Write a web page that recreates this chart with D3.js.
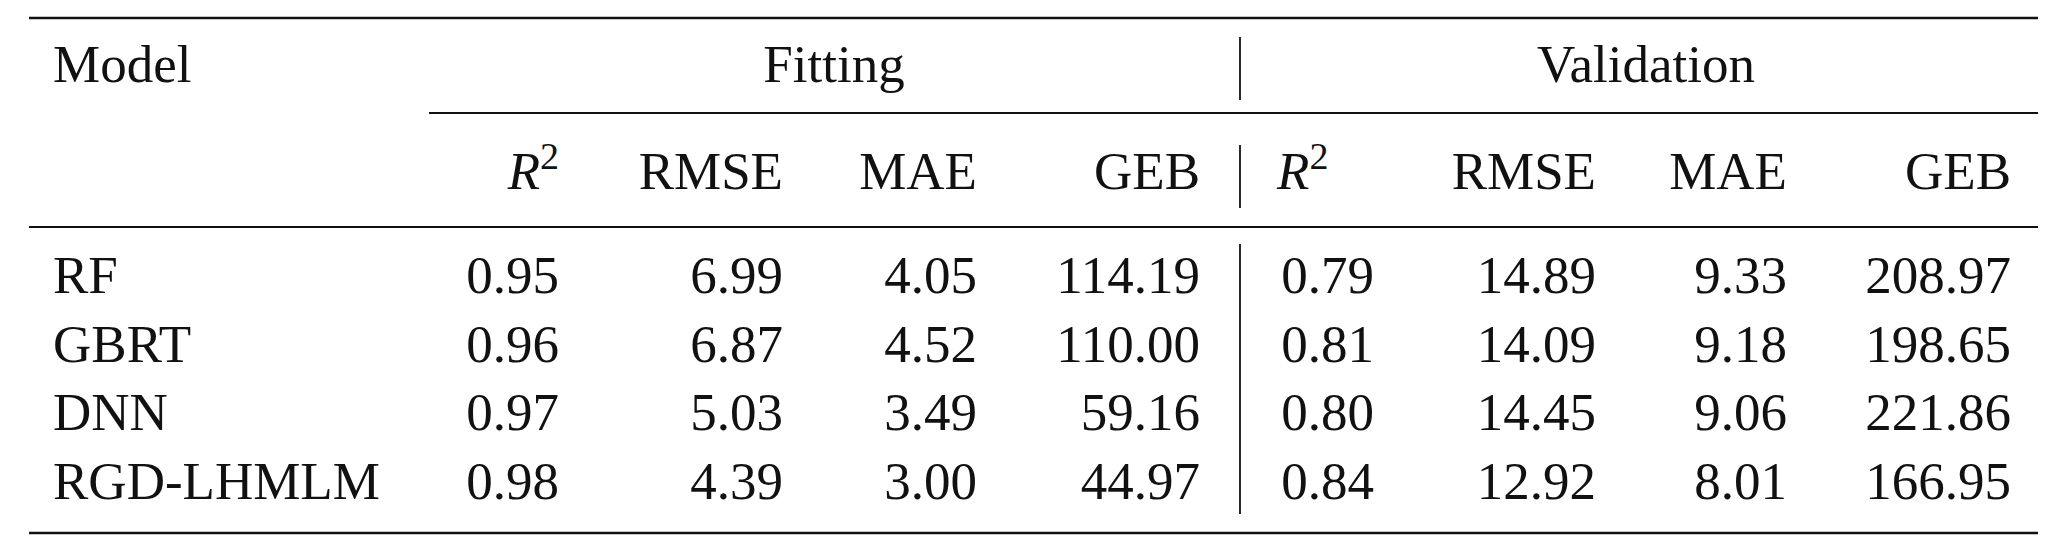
<!DOCTYPE html>
<html><head><meta charset="utf-8">
<script src="https://cdn.jsdelivr.net/npm/d3@7"></script>
<style>body{margin:0;background:#fff}text{font-family:"Liberation Serif","DejaVu Serif",serif;fill:#111}</style>
</head><body><svg id="c" width="2067" height="553"></svg>
<script>
const models = ["RF","GBRT","DNN","RGD-LHMLM"];
const metrics = ["R2","RMSE","MAE","GEB"];
const groups = ["Fitting","Validation"];
const fitting = [
 ["0.95","6.99","4.05","114.19"],
 ["0.96","6.87","4.52","110.00"],
 ["0.97","5.03","3.49","59.16"],
 ["0.98","4.39","3.00","44.97"]];
const validation = [
 ["0.79","14.89","9.33","208.97"],
 ["0.81","14.09","9.18","198.65"],
 ["0.80","14.45","9.06","221.86"],
 ["0.84","12.92","8.01","166.95"]];

const svg = d3.select("#c");
const fs = 53;
const y = d3.scalePoint().domain(models).range([293,499]);
const colKeys = ["F0","F1","F2","F3","V0","V1","V2","V3"];
const x = d3.scaleOrdinal().domain(colKeys).range([559,783,977,1200,1374,1596,1787,2011]);
const gx = d3.scaleOrdinal().domain(groups).range([834,1646]);
const L=29,R=2038,VX=1240;

function hline(yy,x1,x2,w){svg.append("line").attr("x1",x1).attr("x2",x2).attr("y1",yy).attr("y2",yy).attr("stroke","#111").attr("stroke-width",w);}
function vline(y1,y2){svg.append("line").attr("x1",VX).attr("x2",VX).attr("y1",y1).attr("y2",y2).attr("stroke","#111").attr("stroke-width",1.8);}
hline(18,L,R,2.6); hline(113,429,R,2.2); hline(227,L,R,2.2); hline(533,L,R,2.6);
vline(37,100); vline(145,208); vline(244,514);

svg.append("text").attr("x",53).attr("y",82).attr("font-size",fs).text("Model");
svg.selectAll(".g").data(groups).join("text").attr("x",d=>gx(d)).attr("y",82)
 .attr("text-anchor","middle").attr("font-size",fs).text(d=>d);

colKeys.forEach((k,i)=>{
  const m = metrics[i%4];
  let t;
  if(k==="V0"){ t=svg.append("text").attr("x",1277).attr("y",189).attr("font-size",fs); }
  else t=svg.append("text").attr("x",x(k)).attr("y",189).attr("text-anchor","end").attr("font-size",fs);
  if(m==="R2"){ t.append("tspan").attr("font-style","italic").text("R");
    t.append("tspan").attr("dy",-20).attr("font-size",38).text("2"); }
  else t.text(m);
});

svg.selectAll(".m").data(models).join("text").attr("x",53).attr("y",d=>y(d)).attr("font-size",fs).text(d=>d);
models.forEach((mod,r)=>{
  const vals = fitting[r].concat(validation[r]);
  svg.selectAll(null).data(vals).join("text").attr("x",(d,i)=>x(colKeys[i])).attr("y",y(mod))
   .attr("text-anchor","end").attr("font-size",fs).text(d=>d);
});
</script></body></html>
